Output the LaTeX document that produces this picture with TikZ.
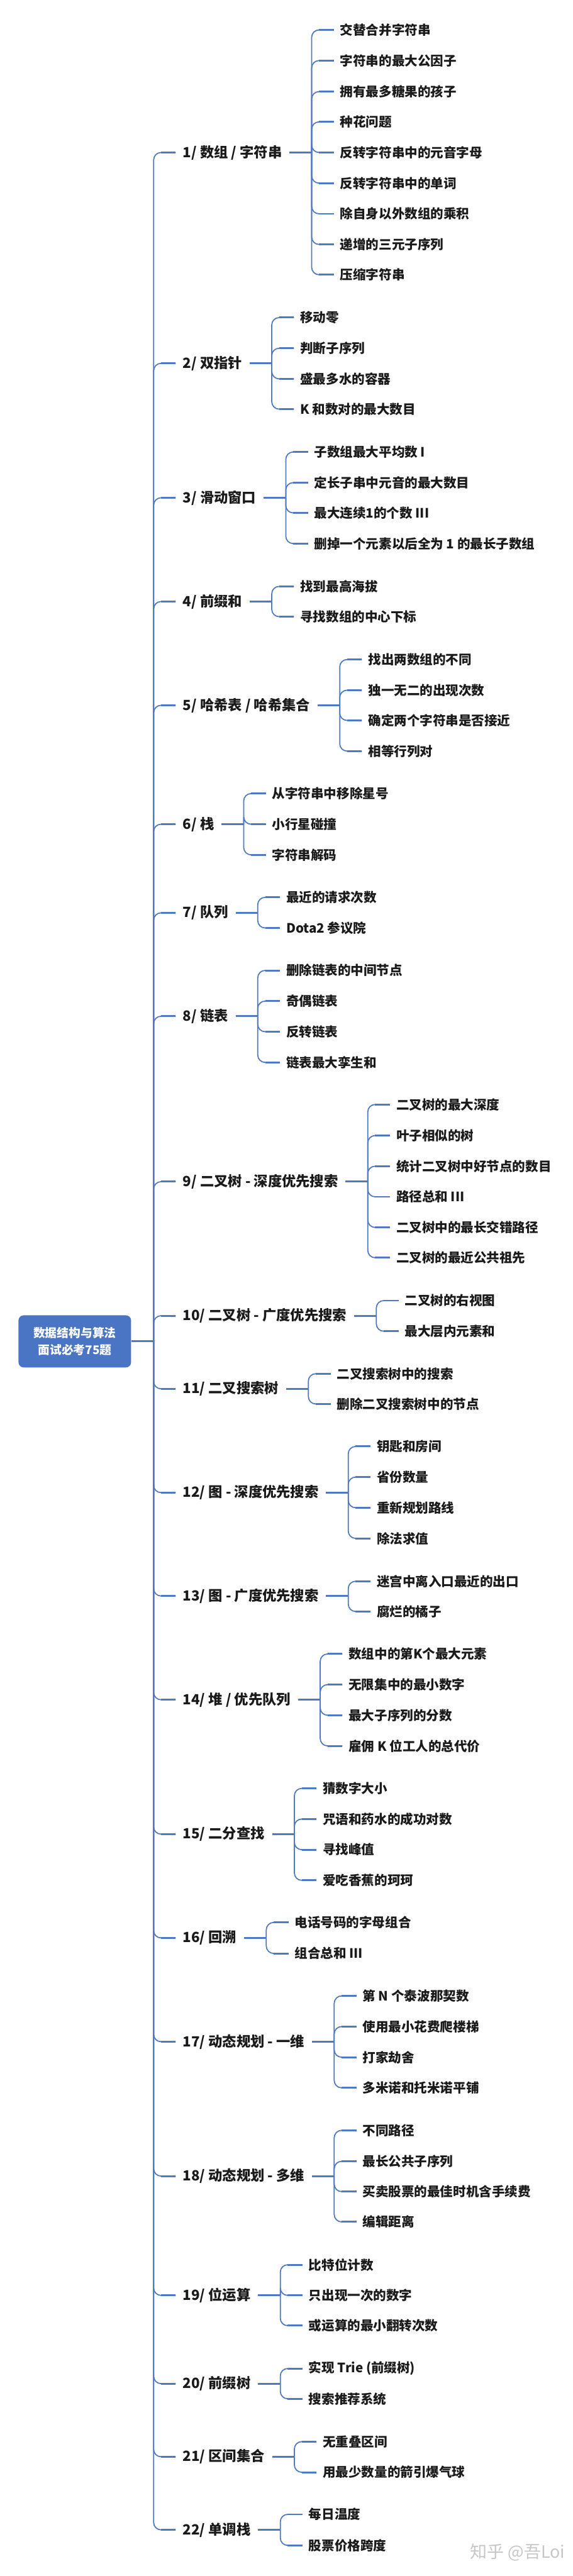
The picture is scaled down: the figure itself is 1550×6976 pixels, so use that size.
\documentclass[tikz,border=0pt]{standalone}
\usepackage{fontspec}
\setmainfont{Noto Sans CJK SC}
\usetikzlibrary{calc}
\definecolor{lineblue}{HTML}{4F79C4}
\definecolor{boxblue}{HTML}{4A74C4}
\definecolor{txt}{HTML}{1A1A1A}
\tikzset{
  blabel/.style={anchor=west,inner sep=0pt,font=\fontsize{38}{40}\selectfont\bfseries,text=txt},
  leaftext/.style={anchor=west,inner sep=0pt,font=\fontsize{35}{37}\selectfont\bfseries,text=txt},
  conn/.style={draw=lineblue,line width=3pt,rounded corners=20pt},
  hline/.style={draw=lineblue,line width=5pt},
  rootbox/.style={fill=boxblue,rounded corners=14pt,minimum width=305pt,minimum height=141pt,
    align=center,text=white,font=\fontsize{32}{45}\selectfont\bfseries,inner sep=0pt}
}
\newcommand\branch[3]{%
  \node[blabel] (b#1) at (495,#2) {#3};
  \draw[conn,shorten >=19pt] (trunk) |- (b#1.west);
  \draw[hline,shorten >=19pt] ($(trunk |- b#1.west)+(20,0)$) -- (b#1.west);
  \coordinate (s#1) at ($(b#1.east)+(80,0)$);
  \draw[hline,shorten <=20pt] (b#1.east) -- (s#1);
}
\newcommand\leaf[4]{%
  \node[leaftext] (l#1-#2) at ($(s#1 |- 0,#3)+(77,0)$) {#4};
  \draw[conn,shorten >=17pt] (s#1) |- (l#1-#2.west);
  \draw[hline,shorten >=17pt] ($(s#1 |- l#1-#2.west)+(20,0)$) -- (l#1-#2.west);
}
\begin{document}
\begin{tikzpicture}[x=1pt,y=-1pt]
\useasboundingbox (0,0) rectangle (1550,6976);
\fill[white] (0,0) rectangle (1550,6976);
\node[rootbox] (root) at (202.5,3632.5) {数据结构与算法\\面试必考75题};
\coordinate (trunk) at (416,3632);
\draw[hline] (root.east |- trunk) -- (trunk);

\branch{1}{413}{1/ 数组 / 字符串}
\leaf{1}{1}{81}{交替合并字符串}
\leaf{1}{2}{164}{字符串的最大公因子}
\leaf{1}{3}{248}{拥有最多糖果的孩子}
\leaf{1}{4}{330}{种花问题}
\leaf{1}{5}{413}{反转字符串中的元音字母}
\leaf{1}{6}{496}{反转字符串中的单词}
\leaf{1}{7}{579}{除自身以外数组的乘积}
\leaf{1}{8}{662}{递增的三元子序列}
\leaf{1}{9}{744}{压缩字符串}

\branch{2}{984}{2/ 双指针}
\leaf{2}{1}{860}{移动零}
\leaf{2}{2}{943}{判断子序列}
\leaf{2}{3}{1026}{盛最多水的容器}
\leaf{2}{4}{1108}{K 和数对的最大数目}

\branch{3}{1348}{3/ 滑动窗口}
\leaf{3}{1}{1224}{子数组最大平均数 I}
\leaf{3}{2}{1307}{定长子串中元音的最大数目}
\leaf{3}{3}{1389}{最大连续1的个数 III}
\leaf{3}{4}{1472}{删掉一个元素以后全为 1 的最长子数组}

\branch{4}{1629}{4/ 前缀和}
\leaf{4}{1}{1588}{找到最高海拔}
\leaf{4}{2}{1670}{寻找数组的中心下标}

\branch{5}{1910}{5/ 哈希表 / 哈希集合}
\leaf{5}{1}{1786}{找出两数组的不同}
\leaf{5}{2}{1869}{独一无二的出现次数}
\leaf{5}{3}{1951}{确定两个字符串是否接近}
\leaf{5}{4}{2034}{相等行列对}

\branch{6}{2232}{6/ 栈}
\leaf{6}{1}{2149}{从字符串中移除星号}
\leaf{6}{2}{2232}{小行星碰撞}
\leaf{6}{3}{2315}{字符串解码}

\branch{7}{2472}{7/ 队列}
\leaf{7}{1}{2430}{最近的请求次数}
\leaf{7}{2}{2513}{Dota2 参议院}

\branch{8}{2752}{8/ 链表}
\leaf{8}{1}{2628}{删除链表的中间节点}
\leaf{8}{2}{2711}{奇偶链表}
\leaf{8}{3}{2794}{反转链表}
\leaf{8}{4}{2877}{链表最大孪生和}

\branch{9}{3200}{9/ 二叉树 - 深度优先搜索}
\leaf{9}{1}{2991}{二叉树的最大深度}
\leaf{9}{2}{3075}{叶子相似的树}
\leaf{9}{3}{3158}{统计二叉树中好节点的数目}
\leaf{9}{4}{3241}{路径总和 III}
\leaf{9}{5}{3324}{二叉树中的最长交错路径}
\leaf{9}{6}{3406}{二叉树的最近公共祖先}

\branch{10}{3563}{10/ 二叉树 - 广度优先搜索}
\leaf{10}{1}{3522}{二叉树的右视图}
\leaf{10}{2}{3605}{最大层内元素和}

\branch{11}{3761}{11/ 二叉搜索树}
\leaf{11}{1}{3720}{二叉搜索树中的搜索}
\leaf{11}{2}{3802}{删除二叉搜索树中的节点}

\branch{12}{4042}{12/ 图 - 深度优先搜索}
\leaf{12}{1}{3917}{钥匙和房间}
\leaf{12}{2}{4000}{省份数量}
\leaf{12}{3}{4083}{重新规划路线}
\leaf{12}{4}{4166}{除法求值}

\branch{13}{4322}{13/ 图 - 广度优先搜索}
\leaf{13}{1}{4282}{迷宫中离入口最近的出口}
\leaf{13}{2}{4364}{腐烂的橘子}

\branch{14}{4603}{14/ 堆 / 优先队列}
\leaf{14}{1}{4479}{数组中的第K个最大元素}
\leaf{14}{2}{4562}{无限集中的最小数字}
\leaf{14}{3}{4645}{最大子序列的分数}
\leaf{14}{4}{4728}{雇佣 K 位工人的总代价}

\branch{15}{4967}{15/ 二分查找}
\leaf{15}{1}{4843}{猜数字大小}
\leaf{15}{2}{4926}{咒语和药水的成功对数}
\leaf{15}{3}{5009}{寻找峰值}
\leaf{15}{4}{5092}{爱吃香蕉的珂珂}

\branch{16}{5248}{16/ 回溯}
\leaf{16}{1}{5206}{电话号码的字母组合}
\leaf{16}{2}{5290}{组合总和 III}

\branch{17}{5529}{17/ 动态规划 - 一维}
\leaf{17}{1}{5405}{第 N 个泰波那契数}
\leaf{17}{2}{5488}{使用最小花费爬楼梯}
\leaf{17}{3}{5571}{打家劫舍}
\leaf{17}{4}{5654}{多米诺和托米诺平铺}

\branch{18}{5893}{18/ 动态规划 - 多维}
\leaf{18}{1}{5769}{不同路径}
\leaf{18}{2}{5853}{最长公共子序列}
\leaf{18}{3}{5935}{买卖股票的最佳时机含手续费}
\leaf{18}{4}{6017}{编辑距离}

\branch{19}{6216}{19/ 位运算}
\leaf{19}{1}{6133}{比特位计数}
\leaf{19}{2}{6216}{只出现一次的数字}
\leaf{19}{3}{6298}{或运算的最小翻转次数}

\branch{20}{6455}{20/ 前缀树}
\leaf{20}{1}{6414}{实现 Trie (前缀树)}
\leaf{20}{2}{6496}{搜索推荐系统}

\branch{21}{6653}{21/ 区间集合}
\leaf{21}{1}{6612}{无重叠区间}
\leaf{21}{2}{6695}{用最少数量的箭引爆气球}

\branch{22}{6851}{22/ 单调栈}
\leaf{22}{1}{6809}{每日温度}
\leaf{22}{2}{6893}{股票价格跨度}

\node[anchor=east,inner sep=0pt,text=black!22,font=\fontsize{46}{48}\selectfont] (wm) at (1530,6912) {知乎 @吾Loi};
\end{tikzpicture}
\end{document}
